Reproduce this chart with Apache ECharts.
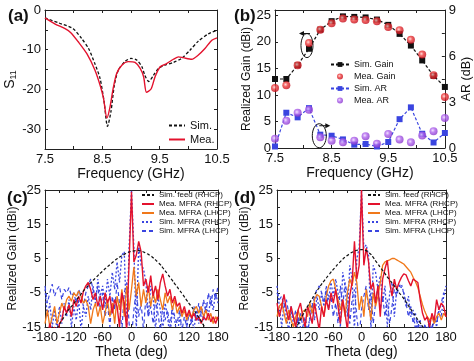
<!DOCTYPE html>
<html><head><meta charset="utf-8">
<script src="https://cdn.jsdelivr.net/npm/echarts@6/dist/echarts.min.js"></script>
<style>html,body{margin:0;padding:0;background:#fff}#c{width:474px;height:361px}</style>
</head><body><div id="c"></div>
<script>
// ---------- (a) S11 ----------
const freqSimA = [7.5,7.73,7.99,8.14,8.26,8.37,8.46,8.53,8.59,8.65,8.71,8.78,8.9,9.0,9.1,9.19,9.24,9.31,9.39,9.48,9.59,9.74,9.88,10.03,10.17,10.35,10.5];
const simS11 = [-2,-3.2,-4.7,-7.2,-9.7,-13.5,-17.2,-23,-29.3,-25.6,-18.9,-15.1,-12.9,-12.2,-12.6,-14.3,-16.4,-18,-16.5,-14.7,-13.9,-13.2,-12.2,-10.1,-7.9,-6,-5.1];
const freqMeaA = [7.5,7.67,7.85,7.95,8.08,8.23,8.37,8.46,8.52,8.58,8.63,8.69,8.75,8.84,8.95,9.07,9.16,9.22,9.27,9.35,9.42,9.51,9.62,9.74,9.83,9.91,10.06,10.17,10.29,10.41,10.5];
const meaS11 = [-2,-3.5,-4.7,-5.7,-8,-11,-15.1,-18.9,-22.2,-27.2,-24.7,-19.7,-16,-13.9,-13,-13.2,-14.7,-16.8,-20.7,-19.9,-16.8,-14.3,-13.5,-12.4,-11.8,-12,-12.4,-11.4,-9.7,-7.6,-7];

// ---------- (b) Gain / AR ----------
const freqB = [7.5,7.7,7.9,8.1,8.3,8.5,8.7,8.9,9.1,9.3,9.5,9.7,9.9,10.1,10.3,10.5];
const simGain = [13,13,15.6,18.7,22.3,23.9,24.8,24.7,24.6,24.2,23.2,21.5,19.3,16.5,13.6,11.5];
const meaGain = [11.3,11.8,15.6,19.8,22.3,23.5,24.4,24.2,24.1,23.9,22.8,22.2,20.4,17.6,13.7,9.6];
const simAR = [0.1,2.3,2.0,2.6,0.87,0.8,0.56,0.22,0.26,0.1,0.39,1.88,2.65,0.93,0.36,0.98];
const meaAR = [0.6,1.77,2.3,2.5,0.7,0.48,0.37,0.48,0.77,0.27,0.92,0.55,0.37,0.82,1.1,1.95];

// ---------- (c),(d) patterns ----------
const theta = [-180,-175,-170,-165,-160,-155,-150,-145,-140,-135,-130,-125,
 -120,-115,-110,-105,-100,-95,-90,-85,-80,-75,-70,-65,
 -60,-55,-50,-45,-40,-35,-30,-25,-20,-15,-10,-5,
 0,5,10,15,20,25,30,35,40,45,50,55,
 60,65,70,75,80,85,90,95,100,105,110,115,
 120,125,130,135,140,145,150,155,160,165,170,175,180];

const feedC = [-20,-19.2,-18.5,-17.5,-16.5,-15.3,-14.2,-13.1,-12,-10.9,-9.8,-9,
 -8.2,-7.2,-6.3,-5.4,-4.5,-3.7,-2.9,-2.1,-1.4,-0.7,0,0.7,
 1.3,2,2.6,3.2,3.8,4.4,4.9,5.4,5.8,6.2,6.6,6.9,
 7.1,7.2,7.3,7.3,7.2,6.9,6.6,6.2,5.8,5.2,4.6,3.9,
 3.2,2.3,1.4,0.5,-0.5,-1.4,-2.4,-3.3,-4.3,-5.2,-6.2,-7.2,
 -8.2,-9.1,-10.1,-11.1,-12.2,-13.3,-14.5,-15.5,-16.5,-17.5,-18.5,-19.3,-20];
const meaRC = [-16,-18,-14,-17,-15,-19,-14,-13,-9,-11,-8.5,-12,
 -7,-9,-6,-8,-4.5,-3,-2,-4,-7,-5,-9,-6,
 -10,-5,-8,-6,-11,-7,-9,-15,-5,-8,-16,4,
 24.5,4,6,10,7,-3,-1,-5,0,-6,-3,-7,
 -2,0.5,-3,-6,-4,-8,-6,-9,-8,-11,-9,-12,
 -10,-12.5,-11,-13,-12,-14,-12,-13,-11,-13.5,-12,-14,-12];
const meaLC = [-14,-10,-15,-12,-9,-14,-11,-8,-10,-7,-6,-7.5,
 -5,-6,-4.5,-6,-8,-7,-9,-14,-10,-8,-12,-9,
 -14,-11,-7,-12,-8,-14,-6,-10,-4,-12,-3,-10,
 -4,2.5,-6,-2,-9,-4,-8,-3,-9,-5,-8,-4,
 -7,-10,-5,-8,-6,-10,-7,-11,-9,-12,-10,-13,
 -11,-12,-10,-9,-11,-9,-12,-10,-13,-11,-14,-12,-13];
const simRC = [-4,-12,-8,-15,-10,-16,-9,-14,-8,-12,-7,-15,
 -9,-13,-7,-16,-9,-12,-6,-10,-3,-8,-1,-6,
 -3,-9,-1,-6,1,-4,4,-2,6,7,-16,8,
 25,8,-16,9,3,2,-2,-12,-3,-6,-16,-6,
 -10,-16,-8,-12,-18,-10,-13,-18,-12,-16,-20,-13,
 -17,-12,-16,-10,-14,-9,-13,-8,-12,-6,-10,-5,-8];
const simLC = [-3,-8,-5,-2.5,-6,-4,-3,-7,-4,-5,-3.5,-6,
 -5,-8,-4,-6,-9,-5,-3,-1,-4,-7,-3,-10,
 -5,-12,-8,-15,-6,-10,-2,-8,-16,-5,-2,-14,
 -18,-10,-4,-12,-8,-16,-6,-12,-9,-14,-7,-11,
 -16,-9,-13,-10,-15,-9,-12,-14,-10,-16,-12,-15,
 -11,-14,-9,-13,-8,-12,-7,-11,-5,-9,-4,-7,-3];

const feedD = [-26,-25,-24,-22.8,-21.5,-19.3,-18,-16.7,-15.4,-14.1,-12.8,-11.5,
 -10.2,-9,-7.8,-6.7,-5.6,-4.5,-3.5,-2.5,-1.6,-0.7,0.2,1,
 1.8,2.6,3.4,4.1,4.8,5.4,5.9,6.4,6.8,7.1,7.4,7.5,
 7.6,7.5,7.3,6.8,6.2,5.3,4.3,3.4,2.4,1.5,0.6,-0.4,
 -1.3,-2.1,-3,-4,-5,-5.8,-6.7,-7.7,-8.8,-9.8,-10.8,-11.8,
 -12.9,-13.8,-14.8,-15.9,-17,-18,-19,-20,-21,-22,-23,-24,-25];
const meaRD = [-8,-12,-9,-5.5,-10,-13,-9,-12,-15,-10,-8,-12,
 -15,-9,-11,-14,-8,-12,-16,-9,-12,-7,-10,-5,
 -8,-4,-9,-14,-7,-11,-16,-6,-2,10,-1,3,
 25,3,8,4,-4,-2,-8,-3,-12,-1,2,4.5,
 -2,-6,-1,-4,-2,-0.5,0.5,0.2,-1.5,-3,-1,-1.5,
 -2,-7,-11,-13,-12,-15,-11,-13,-7,-10,-8,-9,-12];
const meaLD = [-12,-9,-8,-11,-14,-10,-13,-15,-12,-10,-13,-10.5,
 -10,-12,-8,-11,-7,-5.5,-6,-9,-12,-6,-3,-1.5,
 -1,-4,-7,-10,-7,-12,-5,-1,-3,1,-2,-10,
 -6,-12,-4,-8,-13,-5,-9,-6,-2,3,4,4.3,
 4.6,5,5,4.6,4.2,3.8,3.4,2.6,1.8,1,-0.5,-1.8,
 -3.5,-6,-8.5,-10.5,-12,-13,-12,-14,-12,-11,-13,-11,-12];
const simRD = [-3,-9,-15,-8,-12,-16,-10,-14,-18,-12,-15,-20,
 -14,-17,-12,-8,-13,-6,-10,-5,-9,-3,-7,-2,
 -6,-1,-5,-15,1,-3,-12,3,-1,-16,5,8,
 25,8,9,6,-16,3,1,-4,0,-8,-3,-15,
 -5,-2,-12,-4,-3,-2.5,-5,-9,-6,-12,-10,-16,
 -13,-18,-15,-20,-16,-13,-17,-12,-15,-9,-12,-6,-3];
const simLD = [-5,-7,-6,-9,-7,-11,-9,-13,-10,-14,-11,-15,
 -12,-16,-13,-9,-6,-4,-3,-5,-8,-4,-10,-6,
 -12,-8,-14,-3,-9,-2,-6,-14,-7,-4,-12,-18,
 -10,-6,-3,-10,-5,-14,-8,-3,-10,-6,-12,-7,
 -14,-9,-4,-6,-3,-3.5,-5,-8,-12,-9,-14,-11,
 -16,-13,-18,-14,-17,-13,-16,-12,-14,-10,-8,-5,-6];

// tick labels
const ticksFreq = [7.5,8.5,9.5,10.5];
const ticksS11 = [0,-10,-20,-30];
const ticksGain = [0,5,10,15,20,25];
const ticksAR = [0,3,6,9];
const ticksTheta = [-180,-120,-60,0,60,120,180];
const ticksPat = [-15,-5,5,15,25];

const FONT = 'Liberation Sans';
const pairs = (xs, ys) => xs.map((x, i) => [x, ys[i]]);

function xAx(grid, min, max, labels, ticks, name, top, fmt) {
  return {
    gridIndex: grid, type: 'value', min, max, position: top ? 'top' : 'bottom',
    splitLine: {show: false},
    axisLine: {show: true, onZero: false, lineStyle: {color: '#222', width: 1}},
    axisTick: {show: true, inside: true, length: 3, customValues: ticks, lineStyle: {color: '#222'}},
    axisLabel: {show: !top, customValues: labels, margin: 4, color: '#111', fontSize: 13, fontFamily: FONT,
      formatter: fmt || (v => String(v))},
    name: top ? '' : name, nameLocation: 'middle', nameGap: 17,
    nameTextStyle: {fontSize: 14, color: '#111', fontFamily: FONT}
  };
}
function yAx(grid, min, max, labels, ticks, name, right, showLabel, gap, nameSize) {
  return {
    gridIndex: grid, type: 'value', min, max, position: right ? 'right' : 'left',
    splitLine: {show: false},
    axisLine: {show: true, onZero: false, lineStyle: {color: '#222', width: 1}},
    axisTick: {show: true, inside: true, length: 3, customValues: ticks, lineStyle: {color: '#222'}},
    axisLabel: {show: showLabel, customValues: labels, margin: 4, color: '#111', fontSize: 13, fontFamily: FONT},
    name: name || '', nameLocation: 'middle', nameGap: gap || 30, nameRotate: 90,
    nameTextStyle: {fontSize: nameSize || 13.5, color: '#111', fontFamily: FONT,
      rich: {s: {fontSize: 14, fontFamily: FONT, color: '#111'}, sub: {fontSize: 9, fontFamily: FONT, color: '#111', padding: [7, 0, 0, 0]}}}
  };
}

const tFreq = [7.5,8,8.5,9,9.5,10,10.5];
const tTheta = [-180,-150,-120,-90,-60,-30,0,30,60,90,120,150,180];
const tPat = [-15,-10,-5,0,5,10,15,20,25];
const fmt1 = v => v.toFixed(1);

const RED = '#e3122d', ORANGE = '#f0781a', BLUE = '#3a45e0', BLACK = '#111';
const redBall = {type: 'radial', x: 0.4, y: 0.4, r: 0.6, colorStops: [{offset: 0, color: '#ffd0d0'}, {offset: 0.45, color: '#ee3a3a'}, {offset: 1, color: '#c40d1a'}]};
const purpleBall = {type: 'radial', x: 0.4, y: 0.4, r: 0.6, colorStops: [{offset: 0, color: '#f0d8ff'}, {offset: 0.45, color: '#b066ee'}, {offset: 1, color: '#8a38cc'}]};

const patNames = ['Sim. feed (RHCP)', 'Mea. MFRA (RHCP)', 'Mea. MFRA (LHCP)', 'Sim. MFRA (RHCP)', 'Sim. MFRA (LHCP)'];
function patSeries(xi, yi, feed, mR, mL, sR, sL) {
  const base = {type: 'line', xAxisIndex: xi, yAxisIndex: yi, symbol: 'none', clip: true};
  return [
    Object.assign({}, base, {name: patNames[3], data: pairs(theta, sR), lineStyle: {color: BLUE, width: 1.3, type: [2, 2]}, itemStyle: {color: BLUE}, z: 2}),
    Object.assign({}, base, {name: patNames[4], data: pairs(theta, sL), lineStyle: {color: BLUE, width: 1.2, type: [4, 3]}, itemStyle: {color: BLUE}, z: 2}),
    Object.assign({}, base, {name: patNames[2], data: pairs(theta, mL), lineStyle: {color: ORANGE, width: 1.3}, itemStyle: {color: ORANGE}, z: 3}),
    Object.assign({}, base, {name: patNames[1], data: pairs(theta, mR), lineStyle: {color: RED, width: 1.4}, itemStyle: {color: RED}, z: 4}),
    Object.assign({}, base, {name: patNames[0], data: pairs(theta, feed), smooth: true, lineStyle: {color: BLACK, width: 1.2, type: [3, 2]}, itemStyle: {color: BLACK}, z: 5})
  ];
}

const chart = echarts.init(document.getElementById('c'), null, {renderer: 'canvas'});
const option = {
  animation: false,
  backgroundColor: '#fff',
  textStyle: {fontFamily: FONT},
  title: [
    {text: '(a)', left: 3, top: 3, textStyle: {fontSize: 17, fontWeight: 'bold', color: '#111', fontFamily: FONT}},
    {text: '(b)', left: 229, top: 3, textStyle: {fontSize: 17, fontWeight: 'bold', color: '#111', fontFamily: FONT}},
    {text: '(c)', left: 2, top: 185, textStyle: {fontSize: 17, fontWeight: 'bold', color: '#111', fontFamily: FONT}},
    {text: '(d)', left: 229, top: 185, textStyle: {fontSize: 17, fontWeight: 'bold', color: '#111', fontFamily: FONT}}
  ],
  grid: [
    {left: 45, top: 10, width: 172, height: 139},
    {left: 275, top: 10, width: 172, height: 138},
    {left: 45, top: 190, width: 173, height: 137},
    {left: 277, top: 190, width: 169, height: 137}
  ],
  xAxis: [
    xAx(0, 7.5, 10.5, ticksFreq, tFreq, 'Frequency (GHz)', false, fmt1),
    xAx(0, 7.5, 10.5, ticksFreq, tFreq, '', true),
    xAx(1, 7.5, 10.5, ticksFreq, tFreq, 'Frequency (GHz)', false, fmt1),
    xAx(1, 7.5, 10.5, ticksFreq, tFreq, '', true),
    xAx(2, -180, 180, ticksTheta, tTheta, 'Theta (deg)', false),
    xAx(2, -180, 180, ticksTheta, tTheta, '', true),
    xAx(3, -180, 180, ticksTheta, tTheta, 'Theta (deg)', false),
    xAx(3, -180, 180, ticksTheta, tTheta, '', true)
  ],
  yAxis: [
    yAx(0, -35, 0, ticksS11, [0,-5,-10,-15,-20,-25,-30,-35], '{s|S}{sub|11}', false, true, 26),
    yAx(0, -35, 0, ticksS11, [0,-5,-10,-15,-20,-25,-30,-35], '', true, false),
    yAx(1, 0, 26, ticksGain, [0,5,10,15,20,25], 'Realized Gain (dBi)', false, true, 21, 12),
    yAx(1, 0, 9, ticksAR, [0,1.5,3,4.5,6,7.5,9], 'AR (dB)', true, true, 15, 12.5),
    yAx(2, -15, 25, ticksPat, tPat, 'Realized Gain (dBi)', false, true, 24, 12),
    yAx(2, -15, 25, ticksPat, tPat, '', true, false),
    yAx(3, -15, 25, ticksPat, tPat, 'Realized Gain (dBi)', false, true, 24, 12),
    yAx(3, -15, 25, ticksPat, tPat, '', true, false)
  ],
  legend: [
    {data: ['Sim.', 'Mea.'], orient: 'vertical', left: 163, top: 115, itemWidth: 16, itemHeight: 8, itemGap: 3,
      itemStyle: {opacity: 0},
      textStyle: {fontSize: 11, color: '#111', fontFamily: FONT}, selectedMode: false},
    {data: ['Sim. Gain', 'Mea. Gain', 'Sim. AR', 'Mea. AR'], orient: 'vertical', left: 325, top: 55, itemWidth: 18, itemHeight: 6, itemGap: 3,
      textStyle: {fontSize: 9, color: '#111', fontFamily: FONT}, selectedMode: false},
    {data: patNames, orient: 'vertical', left: 141, top: 191, itemWidth: 12, itemHeight: 5, itemGap: 1, padding: 0,
      itemStyle: {opacity: 0},
      textStyle: {fontSize: 8, color: '#111', fontFamily: FONT}, selectedMode: false},
    {data: patNames, orient: 'vertical', left: 367, top: 191, itemWidth: 12, itemHeight: 5, itemGap: 1, padding: 0,
      itemStyle: {opacity: 0},
      textStyle: {fontSize: 8, color: '#111', fontFamily: FONT}, selectedMode: false}
  ],
  series: [
    {name: 'Sim.', type: 'line', xAxisIndex: 0, yAxisIndex: 0, data: pairs(freqSimA, simS11), symbol: 'none', smooth: 0.25,
      lineStyle: {color: BLACK, width: 1.3, type: [3, 2]}, itemStyle: {color: BLACK}},
    {name: 'Mea.', type: 'line', xAxisIndex: 0, yAxisIndex: 0, data: pairs(freqMeaA, meaS11), symbol: 'none', smooth: 0.25,
      lineStyle: {color: RED, width: 1.4}, itemStyle: {color: RED}},
    {name: 'Sim. Gain', type: 'line', xAxisIndex: 2, yAxisIndex: 2, data: pairs(freqB, simGain), symbol: 'rect', symbolSize: 6,
      lineStyle: {color: BLACK, width: 1.2, type: [3, 2]}, itemStyle: {color: BLACK}, z: 3},
    {name: 'Mea. Gain', type: 'scatter', xAxisIndex: 2, yAxisIndex: 2, data: pairs(freqB, meaGain), symbol: 'circle', symbolSize: 8,
      itemStyle: {color: redBall}, z: 4},
    {name: 'Sim. AR', type: 'line', xAxisIndex: 2, yAxisIndex: 3, data: pairs(freqB, simAR), symbol: 'rect', symbolSize: 6,
      lineStyle: {color: BLUE, width: 1.2, type: [3, 2]}, itemStyle: {color: BLUE}, z: 3},
    {name: 'Mea. AR', type: 'scatter', xAxisIndex: 2, yAxisIndex: 3, data: pairs(freqB, meaAR), symbol: 'circle', symbolSize: 8,
      itemStyle: {color: purpleBall}, z: 4}
  ].concat(patSeries(4, 4, feedC, meaRC, meaLC, simRC, simLC))
   .concat(patSeries(6, 6, feedD, meaRD, meaLD, simRD, simLD))
};
chart.setOption(option);

// annotation ellipses and arrows in (b), anchored on data positions
const p1 = chart.convertToPixel({xAxisIndex: 2, yAxisIndex: 2}, [8.1, 19.3]);
const p2 = chart.convertToPixel({xAxisIndex: 2, yAxisIndex: 3}, [8.3, 0.8]);
const arrow = (x1, y, x2) => {
  const dir = x2 > x1 ? 1 : -1;
  return [
    {type: 'line', shape: {x1: x1, y1: y, x2: x2 - dir * 3, y2: y}, style: {stroke: '#111', lineWidth: 1}, z: 10},
    {type: 'polygon', shape: {points: [[x2, y], [x2 - dir * 5, y - 2.5], [x2 - dir * 5, y + 2.5]]}, style: {fill: '#111'}, z: 10}
  ];
};
chart.setOption({graphic: [
  {type: 'ellipse', shape: {cx: p1[0] - 2, cy: p1[1], rx: 6, ry: 12}, style: {fill: 'none', stroke: '#111', lineWidth: 1}, z: 10},
  {type: 'ellipse', shape: {cx: p2[0] - 1, cy: p2[1], rx: 7, ry: 12}, style: {fill: 'none', stroke: '#111', lineWidth: 1}, z: 10}
].concat(arrow(p1[0] + 1, p1[1] - 12, p1[0] - 10)).concat(arrow(p2[0] - 1, p2[1] - 10, p2[0] + 10))});
</script>
</body></html>
